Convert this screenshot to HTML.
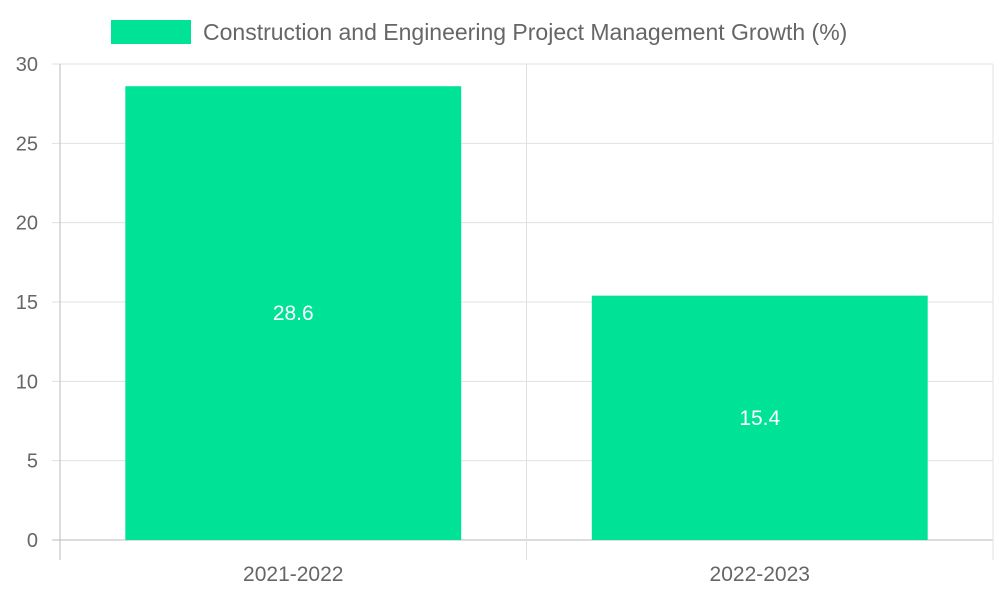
<!DOCTYPE html>
<html><head><meta charset="utf-8"><style>
body{margin:0;background:#fff;}
svg{display:block;font-family:"Liberation Sans",sans-serif;}
</style></head><body>
<svg id="chart" width="1000" height="600">
  <rect x="111" y="20" width="80" height="24" fill="#00e396"/>
  <text x="203" y="40" font-size="23" fill="#666">Construction and Engineering Project Management Growth (%)</text>
  <g id="grid"></g>
  <g id="bars"></g>
  <g id="labels"></g>
</svg>
<script>
const categories = ["2021-2022", "2022-2023"];
const values = [28.6, 15.4];
const yTicks = [0, 5, 10, 15, 20, 25, 30];
const NS = "http://www.w3.org/2000/svg";
const L = 60, R = 993, T = 64, B = 540, yMax = 30;
const y = v => B - (v / yMax) * (B - T);
const bandW = (R - L) / categories.length;
const x = i => L + bandW * i;
function mk(tag, attrs, parent) {
  const e = document.createElementNS(NS, tag);
  for (const k in attrs) e.setAttribute(k, attrs[k]);
  parent.appendChild(e);
  return e;
}
const grid = document.getElementById("grid");
const bars = document.getElementById("bars");
const labels = document.getElementById("labels");
yTicks.forEach(t => {
  const ln = mk("line", {x1: L - 8, x2: R, y1: y(t), y2: y(t), stroke: t === 0 ? "#bbb" : "#e0e0e0", "stroke-width": 1}, grid);
  
  
  const tx = mk("text", {x: 38, y: y(t) + 7, "font-size": 20, fill: "#666", "text-anchor": "end"}, labels);
  tx.textContent = t;
  
  
});
for (let i = 0; i <= categories.length; i++) {
  const ln = mk("line", {x1: x(i), x2: x(i), y1: T, y2: B + 20, stroke: i === 0 ? "#bbb" : "#e0e0e0", "stroke-width": 1}, grid);
  
  
}
categories.forEach((c, i) => {
  const w = bandW * 0.72;
  const bx = x(i) + (bandW - w) / 2;
  const r = mk("rect", {x: bx, y: y(values[i]), width: w, height: B - y(values[i]), fill: "#00e396"}, bars);
  
  
  const vt = mk("text", {x: bx + w / 2, y: (y(values[i]) + B) / 2 + 7, "font-size": 21, fill: "#fff", "text-anchor": "middle"}, labels);
  vt.textContent = values[i];
  
  
  const ct = mk("text", {x: x(i) + bandW / 2, y: 581, "font-size": 21, fill: "#666", "text-anchor": "middle"}, labels);
  ct.textContent = c;
  
  
});
</script>
</body></html>
